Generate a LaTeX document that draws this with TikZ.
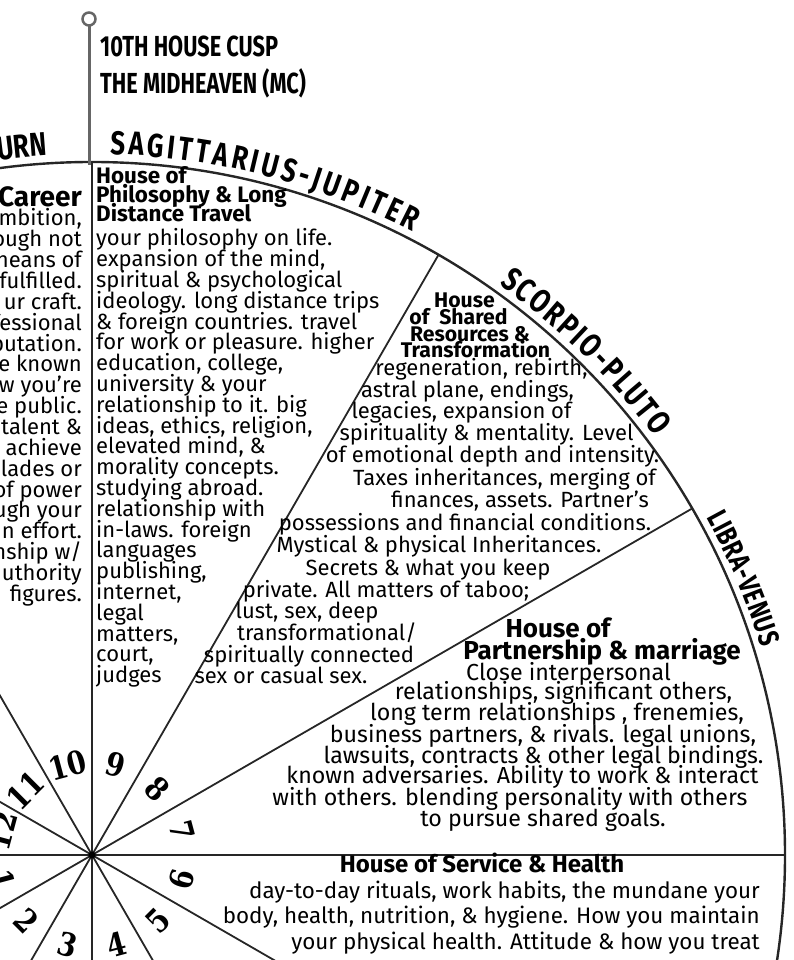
\documentclass[tikz,border=0pt]{standalone}
\usepackage{fontspec}
\setmainfont{Fira Sans}
\newfontfamily\capfont[FakeStretch=0.75]{Fira Sans}
\newfontfamily\zodfont[FakeStretch=0.78]{Fira Sans}
\newfontfamily\numfont[FakeStretch=0.85]{DejaVu Serif}
\usetikzlibrary{decorations.text}

\tikzset{
  body/.style={inner sep=0pt, font=\fontsize{22}{24}\selectfont},
  bodybig/.style={inner sep=0pt, font=\fontsize{23.2}{25}\selectfont},
  bodyser/.style={inner sep=0pt, font=\fontsize{22.4}{25}\selectfont},
  head/.style={inner sep=0pt, font=\fontsize{22.4}{24}\selectfont\bfseries},
  headsmall/.style={inner sep=0pt, font=\fontsize{21.2}{23}\selectfont\bfseries},
  headmid/.style={inner sep=0pt, font=\fontsize{24}{26}\selectfont\bfseries},
  headbig/.style={inner sep=0pt, font=\fontsize{26}{28}\selectfont\bfseries},
  cusp/.style={inner sep=0pt, anchor=base west, font=\capfont\bfseries\fontsize{29}{30}\selectfont},
  num/.style={inner sep=0pt, font=\numfont\bfseries\fontsize{32}{32}\selectfont},
  spoke/.style={line width=1.8pt, black!85},
  rim/.style={line width=2.4pt, black!85},
  pinline/.style={line width=3pt, black!60},
  pinhead/.style={circle, draw=black!60, line width=2.5pt, fill=white, minimum size=13pt, inner sep=0pt}
}

\begin{document}
\begin{tikzpicture}[x=1pt,y=1pt]
  \useasboundingbox (0,0) rectangle (794,960);
  \clip (0,0) rectangle (794,960);

  \coordinate (C) at (92,105);

  %% wheel
  \foreach \a in {0,30,...,330}
    \draw[spoke] (C) -- ([shift={(\a:693)}]C);
  \draw[rim] (C) circle[radius=693];
  \fill[black] (C) circle[radius=3.5];

  %% house numbers
  \foreach \n/\a/\r in {10/105/15, 9/75/-15, 8/45/-45, 7/15/-75, 6/-15/75, 5/-45/45,
                        4/-75/15, 3/-105/-15, 2/-135/-45, 1/-165/-75, 12/165/75, 11/136/45}
    \node[num, rotate=\r] (n\n) at ([shift={(\a:93)}]C) {\n};

  %% MC pin
  \coordinate (cusp) at (89,795);
  \draw[pinline] (89,934) -- (cusp);
  \node[pinhead] (pin) at (89,941) {};
  \node[cusp] (mcA) at (100,903) {10TH HOUSE CUSP};
  \node[cusp] (mcB) at (100,866) {THE MIDHEAVEN (MC)};

  %% signs along the rim
  \path[decorate, decoration={text along path, text align=fit to path,
    text={|\zodfont\bfseries\fontsize{33}{33}\selectfont|URN}}]
    ([shift={(97.7:701)}]C) arc[start angle=97.7, end angle=93.6, radius=701];
  \path[decorate, decoration={text along path, text align=fit to path,
    text={|\zodfont\bfseries\fontsize{33}{33}\selectfont|SAGITTARIUS-JUPITER}}]
    ([shift={(88.5:701)}]C) arc[start angle=88.5, end angle=62.8, radius=701];
  \path[decorate, decoration={text along path, text align=fit to path,
    text={|\zodfont\bfseries\fontsize{33}{33}\selectfont|SCORPIO-PLUTO}}]
    ([shift={(54.5:701)}]C) arc[start angle=54.5, end angle=36.6, radius=701];
  \path[decorate, decoration={text along path, text align=fit to path,
    text={|\zodfont\bfseries\fontsize{29}{29}\selectfont|LIBRA-VENUS}}]
    ([shift={(28.8:701)}]C) arc[start angle=28.8, end angle=17.2, radius=701];

  %% 10th house (career)
  \node[inner sep=0pt, anchor=base east, font=\fontsize{28}{30}\selectfont\bfseries] (car0) at (82,753) {Career};
  \foreach \t [count=\i from 0] in {{Ambition,}, {ough not}, {neans of}, {l fulfilled.},
      {ur craft.}, {fessional}, {putation.}, {be known}, {w you’re}, {he public.},
      {talent \&}, {u achieve}, {plades or}, {of power}, {ugh your}, {n effort.},
      {onship w/}, {uthority}, {figures.}}
    \node[body, anchor=base east] (car\i) at (82,734-20.85*\i) {\t};

  %% 9th house
  \node[head, anchor=base west] (phiA) at (96,776) {House of};
  \node[head, anchor=base west] (phiB) at (96,757) {Philosophy \& Long};
  \node[head, anchor=base west] (phiC) at (96,738) {Distance Travel};
  \foreach \t [count=\i from 0] in {{your philosophy on life.}, {expansion of the mind,},
      {spiritual \& psychological}, {ideology. long distance trips},
      {\& foreign countries. travel}, {for work or pleasure. higher},
      {education, college,}, {university \& your}, {relationship to it. big},
      {ideas, ethics, religion,}, {elevated mind, \&}, {morality concepts.},
      {studying abroad.}, {relationship with}, {in-laws. foreign}, {languages},
      {publishing,}, {internet,}, {legal}, {matters,}, {court,}, {judges}}
    \node[body, anchor=base west] (phi\i) at (96,714-20.8*\i) {\t};

  %% 8th house
  \node[headsmall, anchor=base] (resA) at (464.5,652) {House};
  \node[headsmall, anchor=base] (resB) at (458.5,635) {of\ \ Shared};
  \node[headsmall, anchor=base] (resC) at (470,618) {Resources \&};
  \node[headsmall, anchor=base] (resD) at (475.5,602) {Transformation};
  \foreach \x/\y/\t [count=\i] in {481.5/584/{regeneration, rebirth,},
      467.5/562/{astral plane, endings,}, 461.5/541/{legacies, expansion of},
      486.5/519/{spirituality \& mentality. Level},
      492.5/497/{of emotional depth and intensity.},
      504.5/474/{Taxes inheritances, merging of},
      520/452/{finances, assets. Partner’s},
      465/429/{possessions and financial conditions.},
      439/407/{Mystical \& physical Inheritances.},
      428/384/{Secrets \& what you keep},
      386/362/{private. All matters of taboo;},
      307/341/{lust, sex, deep}, 327/319/{transformational/},
      309/297/{spiritually connected}, 281/276/{sex or casual sex.}}
    \node[body, anchor=base] (res\i) at (\x,\y) {\t};

  %% 7th house
  \node[headbig, anchor=base] (parA) at (558,322) {House of};
  \node[headbig, anchor=base] (parB) at (602,300) {Partnership \& marriage};
  \foreach \x/\y/\t [count=\i] in {568.5/279/{Close interpersonal},
      563.5/260/{relationships, significant others,},
      557/239/{long term relationships , frenemies,},
      543/217/{business partners, \& rivals. legal unions,},
      543.5/196/{lawsuits, contracts \& other legal bindings.},
      522.5/176/{known adversaries. Ability to work \& interact},
      510/154/{with others. blending personality with others},
      543/133/{to pursue shared goals.}}
    \node[bodybig, anchor=base] (par\i) at (\x,\y) {\t};

  %% 6th house
  \node[headmid, anchor=base] (serA) at (482,87) {House of Service \& Health};
  \node[bodyser, anchor=base east] (ser1) at (760,61) {day-to-day rituals, work habits, the mundane your};
  \node[bodyser, anchor=base east] (ser2) at (760,36) {body, health, nutrition, \& hygiene. How you maintain};
  \node[bodyser, anchor=base east] (ser3) at (760,10) {your physical health. Attitude \& how you treat};
\end{tikzpicture}
\end{document}
